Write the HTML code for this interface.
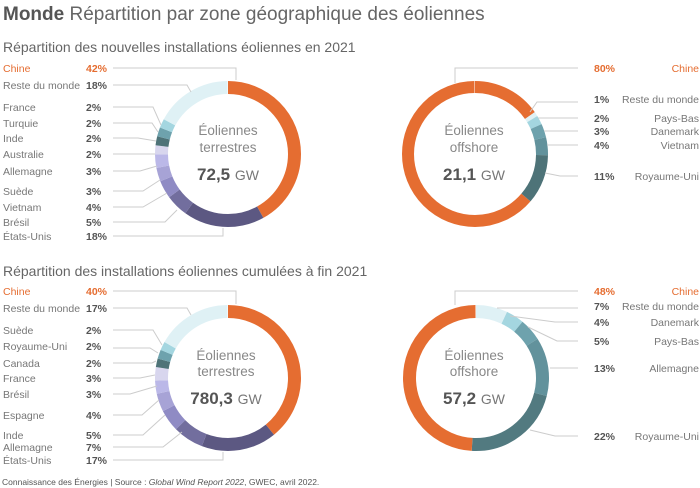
<!DOCTYPE html>
<html><head><meta charset="utf-8"><style>
body{margin:0;background:#fff;}
svg{display:block;font-family:"Liberation Sans",sans-serif;}
.n{fill:#777;font-size:10.5px;}
.p{fill:#555;font-size:10.5px;font-weight:bold;}
.o{fill:#e56d31;}
.l{fill:none;stroke:#ccc;stroke-width:1;}
.c{fill:#888;font-size:13.5px;text-anchor:middle;}
.v{fill:#555;font-size:17px;text-anchor:middle;}
</style></head><body>
<svg width="700" height="488" viewBox="0 0 700 488">
<text x="3" y="20" font-size="19" fill="#666"><tspan font-weight="bold" fill="#555">Monde</tspan> Répartition par zone géographique des éoliennes</text>
<text x="3" y="52" font-size="14" fill="#666">Répartition des nouvelles installations éoliennes en 2021</text>
<text x="3" y="276" font-size="14" fill="#666">Répartition des installations éoliennes cumulées à fin 2021</text>
<text x="2" y="485" font-size="8.5" fill="#555">Connaissance des Énergies | Source : <tspan font-style="italic">Global Wind Report 2022</tspan>, GWEC, avril 2022.</text>

<!-- Chart 1 -->
<g transform="translate(228,154) rotate(-90)" fill="none" stroke-width="13">
<circle r="66.5" pathLength="100" stroke="#e56d31" stroke-dasharray="42 100" stroke-dashoffset="0"/>
<circle r="66.5" pathLength="100" stroke="#5c5882" stroke-dasharray="18 100" stroke-dashoffset="-42"/>
<circle r="66.5" pathLength="100" stroke="#726e9e" stroke-dasharray="5 100" stroke-dashoffset="-60"/>
<circle r="66.5" pathLength="100" stroke="#8f8bc4" stroke-dasharray="4 100" stroke-dashoffset="-65"/>
<circle r="66.5" pathLength="100" stroke="#a7a3d6" stroke-dasharray="3 100" stroke-dashoffset="-69"/>
<circle r="66.5" pathLength="100" stroke="#bbb8e8" stroke-dasharray="3 100" stroke-dashoffset="-72"/>
<circle r="66.5" pathLength="100" stroke="#d8d6ee" stroke-dasharray="2 100" stroke-dashoffset="-75"/>
<circle r="66.5" pathLength="100" stroke="#4e7378" stroke-dasharray="2 100" stroke-dashoffset="-77"/>
<circle r="66.5" pathLength="100" stroke="#6ea2ad" stroke-dasharray="2 100" stroke-dashoffset="-79"/>
<circle r="66.5" pathLength="100" stroke="#a4d6e0" stroke-dasharray="2 100" stroke-dashoffset="-81"/>
<circle r="66.5" pathLength="100" stroke="#dff1f5" stroke-dasharray="17 100" stroke-dashoffset="-83"/>
</g>
<text class="c" x="228" y="135">Éoliennes</text><text class="c" x="228" y="152">terrestres</text>
<text class="v" x="228" y="180"><tspan font-weight="bold">72,5</tspan> <tspan font-size="14" fill="#777">GW</tspan></text>
<g class="l">
<polyline points="113,68 236,68 236,80"/><polyline points="113,85 187,85 191,92"/>
<polyline points="113,107 153,107 161,125"/><polyline points="113,123 152,123 158,132"/>
<polyline points="113,138 138,138 156,141"/><polyline points="113,154 155,154"/>
<polyline points="113,171 140,171 157,166"/><polyline points="113,191 143,191 160,180"/>
<polyline points="113,207 143,207 167,193"/><polyline points="113,222 165,222 177,210"/>
<polyline points="113,236 223,236 223,228"/>
</g>
<g>
<text class="n o" x="3" y="72">Chine</text><text class="p o" x="86" y="72">42%</text>
<text class="n" x="3" y="89">Reste du monde</text><text class="p" x="86" y="89">18%</text>
<text class="n" x="3" y="111">France</text><text class="p" x="86" y="111">2%</text>
<text class="n" x="3" y="127">Turquie</text><text class="p" x="86" y="127">2%</text>
<text class="n" x="3" y="142">Inde</text><text class="p" x="86" y="142">2%</text>
<text class="n" x="3" y="158">Australie</text><text class="p" x="86" y="158">2%</text>
<text class="n" x="3" y="175">Allemagne</text><text class="p" x="86" y="175">3%</text>
<text class="n" x="3" y="195">Suède</text><text class="p" x="86" y="195">3%</text>
<text class="n" x="3" y="211">Vietnam</text><text class="p" x="86" y="211">4%</text>
<text class="n" x="3" y="226">Brésil</text><text class="p" x="86" y="226">5%</text>
<text class="n" x="3" y="240">États-Unis</text><text class="p" x="86" y="240">18%</text>
</g>

<!-- Chart 2 -->
<g transform="translate(475,154) rotate(-90)" fill="none" stroke-width="12">
<circle r="67" pathLength="100" stroke="#e56d31" stroke-dasharray="63.7 100" stroke-dashoffset="-36.3"/>
<circle r="67" pathLength="100" stroke="#e56d31" stroke-dasharray="15.3 100" stroke-dashoffset="0"/>
<circle r="67" pathLength="100" stroke="#dff1f5" stroke-dasharray="1 100" stroke-dashoffset="-15.3"/>
<circle r="67" pathLength="100" stroke="#a4d6e0" stroke-dasharray="2 100" stroke-dashoffset="-16.3"/>
<circle r="67" pathLength="100" stroke="#6ea2ad" stroke-dasharray="3 100" stroke-dashoffset="-18.3"/>
<circle r="67" pathLength="100" stroke="#62929c" stroke-dasharray="4 100" stroke-dashoffset="-21.3"/>
<circle r="67" pathLength="100" stroke="#4e7378" stroke-dasharray="11 100" stroke-dashoffset="-25.3"/>
</g>
<text class="c" x="474" y="135">Éoliennes</text><text class="c" x="474" y="152">offshore</text>
<text class="v" x="474" y="180"><tspan font-weight="bold">21,1</tspan> <tspan font-size="14" fill="#777">GW</tspan></text>
<g class="l">
<polyline points="578,68 455,68 455,83"/><polyline points="578,102 537,102 530,112"/>
<polyline points="578,118 538,118"/><polyline points="578,131 544,131"/>
<polyline points="578,145 547,145"/><polyline points="578,176 560,176 545,173"/>
</g>
<g>
<text class="p o" x="594" y="72">80%</text><text class="n o" x="699" y="72" text-anchor="end">Chine</text>
<text class="p" x="594" y="103">1%</text><text class="n" x="699" y="103" text-anchor="end">Reste du monde</text>
<text class="p" x="594" y="122">2%</text><text class="n" x="699" y="122" text-anchor="end">Pays-Bas</text>
<text class="p" x="594" y="135">3%</text><text class="n" x="699" y="135" text-anchor="end">Danemark</text>
<text class="p" x="594" y="149">4%</text><text class="n" x="699" y="149" text-anchor="end">Vietnam</text>
<text class="p" x="594" y="180">11%</text><text class="n" x="699" y="180" text-anchor="end">Royaume-Uni</text>
</g>

<!-- Chart 3 -->
<g transform="translate(228,378) rotate(-90)" fill="none" stroke-width="13">
<circle r="66.5" pathLength="100" stroke="#e56d31" stroke-dasharray="39.2 100" stroke-dashoffset="0"/>
<circle r="66.5" pathLength="100" stroke="#5c5882" stroke-dasharray="16.7 100" stroke-dashoffset="-39.2"/>
<circle r="66.5" pathLength="100" stroke="#726e9e" stroke-dasharray="6.8 100" stroke-dashoffset="-55.9"/>
<circle r="66.5" pathLength="100" stroke="#8f8bc4" stroke-dasharray="4.9 100" stroke-dashoffset="-62.7"/>
<circle r="66.5" pathLength="100" stroke="#a7a3d6" stroke-dasharray="4 100" stroke-dashoffset="-67.6"/>
<circle r="66.5" pathLength="100" stroke="#bbb8e8" stroke-dasharray="2.9 100" stroke-dashoffset="-71.6"/>
<circle r="66.5" pathLength="100" stroke="#d8d6ee" stroke-dasharray="3 100" stroke-dashoffset="-74.5"/>
<circle r="66.5" pathLength="100" stroke="#4e7378" stroke-dasharray="1.9 100" stroke-dashoffset="-77.5"/>
<circle r="66.5" pathLength="100" stroke="#6ea2ad" stroke-dasharray="2 100" stroke-dashoffset="-79.4"/>
<circle r="66.5" pathLength="100" stroke="#a4d6e0" stroke-dasharray="1.9 100" stroke-dashoffset="-81.4"/>
<circle r="66.5" pathLength="100" stroke="#dff1f5" stroke-dasharray="16.7 100" stroke-dashoffset="-83.3"/>
</g>
<text class="c" x="226" y="360">Éoliennes</text><text class="c" x="226" y="376">terrestres</text>
<text class="v" x="226" y="404"><tspan font-weight="bold">780,3</tspan> <tspan font-size="14" fill="#777">GW</tspan></text>
<g class="l">
<polyline points="113,291 236,291 236,304"/><polyline points="113,308 187,308 191,315"/>
<polyline points="113,330 153,330 162,345"/><polyline points="113,348 150,348 158,353"/>
<polyline points="113,363 152,363 156,361"/><polyline points="113,378 140,378 155,375"/>
<polyline points="113,394 130,394 157,386"/><polyline points="113,415 142,415 159,400"/>
<polyline points="113,435 143,435 165,415"/><polyline points="113,447 163,447 182,432"/>
<polyline points="113,460 223,460 223,452"/>
</g>
<g>
<text class="n o" x="3" y="295">Chine</text><text class="p o" x="86" y="295">40%</text>
<text class="n" x="3" y="312">Reste du monde</text><text class="p" x="86" y="312">17%</text>
<text class="n" x="3" y="334">Suède</text><text class="p" x="86" y="334">2%</text>
<text class="n" x="3" y="350">Royaume-Uni</text><text class="p" x="86" y="350">2%</text>
<text class="n" x="3" y="367">Canada</text><text class="p" x="86" y="367">2%</text>
<text class="n" x="3" y="382">France</text><text class="p" x="86" y="382">3%</text>
<text class="n" x="3" y="398">Brésil</text><text class="p" x="86" y="398">3%</text>
<text class="n" x="3" y="419">Espagne</text><text class="p" x="86" y="419">4%</text>
<text class="n" x="3" y="439">Inde</text><text class="p" x="86" y="439">5%</text>
<text class="n" x="3" y="451">Allemagne</text><text class="p" x="86" y="451">7%</text>
<text class="n" x="3" y="464">États-Unis</text><text class="p" x="86" y="464">17%</text>
</g>

<!-- Chart 4 -->
<g transform="translate(476,378) rotate(-90)" fill="none" stroke-width="13">
<circle r="66.5" pathLength="100" stroke="#dff1f5" stroke-dasharray="7 100" stroke-dashoffset="0"/>
<circle r="66.5" pathLength="100" stroke="#a4d6e0" stroke-dasharray="4 100" stroke-dashoffset="-7"/>
<circle r="66.5" pathLength="100" stroke="#6ea2ad" stroke-dasharray="5 100" stroke-dashoffset="-11"/>
<circle r="66.5" pathLength="100" stroke="#62929c" stroke-dasharray="13 100" stroke-dashoffset="-16"/>
<circle r="66.5" pathLength="100" stroke="#527a80" stroke-dasharray="22 100" stroke-dashoffset="-29"/>
<circle r="66.5" pathLength="100" stroke="#e56d31" stroke-dasharray="49 100" stroke-dashoffset="-51"/>
</g>
<text class="c" x="474" y="360">Éoliennes</text><text class="c" x="474" y="376">offshore</text>
<text class="v" x="474" y="404"><tspan font-weight="bold">57,2</tspan> <tspan font-size="14" fill="#777">GW</tspan></text>
<g class="l">
<polyline points="578,291 455,291 455,305"/><polyline points="578,308 497,308"/>
<polyline points="578,322 555,322 510,316"/><polyline points="578,341 557,341 528,327"/>
<polyline points="578,368 550,368"/><polyline points="578,436 555,436 530,430"/>
</g>
<g>
<text class="p o" x="594" y="295">48%</text><text class="n o" x="699" y="295" text-anchor="end">Chine</text>
<text class="p" x="594" y="310">7%</text><text class="n" x="699" y="310" text-anchor="end">Reste du monde</text>
<text class="p" x="594" y="326">4%</text><text class="n" x="699" y="326" text-anchor="end">Danemark</text>
<text class="p" x="594" y="345">5%</text><text class="n" x="699" y="345" text-anchor="end">Pays-Bas</text>
<text class="p" x="594" y="372">13%</text><text class="n" x="699" y="372" text-anchor="end">Allemagne</text>
<text class="p" x="594" y="440">22%</text><text class="n" x="699" y="440" text-anchor="end">Royaume-Uni</text>
</g>
</svg>
</body></html>
